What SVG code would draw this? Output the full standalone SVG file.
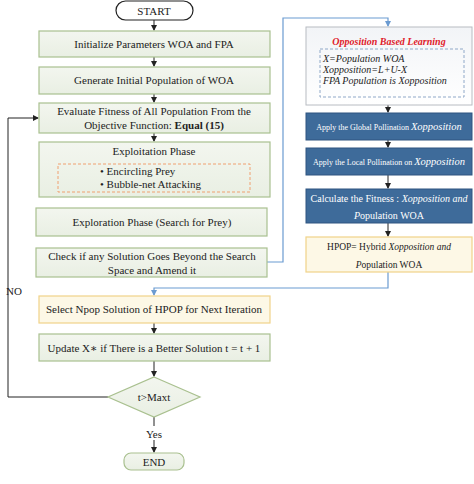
<svg xmlns="http://www.w3.org/2000/svg" width="474" height="484" viewBox="0 0 474 484">
<defs>
<linearGradient id="gG" x1="0" y1="0" x2="0" y2="1"><stop offset="0" stop-color="#f3f6ef"/><stop offset="1" stop-color="#e9efe3"/></linearGradient>
<linearGradient id="gW" x1="0" y1="0" x2="0" y2="1"><stop offset="0" stop-color="#f2f4f7"/><stop offset="1" stop-color="#ffffff"/></linearGradient>
<marker id="ak" markerWidth="6" markerHeight="6" refX="5" refY="3" orient="auto" markerUnits="userSpaceOnUse"><path d="M0,0 L6,3 L0,6 z" fill="#222"/></marker>
<marker id="ab" markerWidth="6" markerHeight="6" refX="5" refY="3" orient="auto" markerUnits="userSpaceOnUse"><path d="M0,0 L6,3 L0,6 z" fill="#6b9bd1"/></marker>
<style>
.g{fill:url(#gG);stroke:#a9c08f;stroke-width:1.2}
.d{fill:#3e6b9a;stroke:#2e5580;stroke-width:1}
.y{fill:#fdf8e6;stroke:#f1d389;stroke-width:1.2}
text{font-family:'Liberation Serif','Times New Roman','DejaVu Serif',serif}
.t{font-size:11px;fill:#222;text-anchor:middle}
.tw{font-size:10px;fill:#fff;text-anchor:middle}
.i{font-size:10px;fill:#222;font-style:italic}
.c{fill:none;stroke:#222;stroke-width:1}
.cb{fill:none;stroke:#6b9bd1;stroke-width:1.2}
</style>
</defs>
<g id="connectors">
<path class="c" d="M154,20 V30" marker-end="url(#ak)"/>
<path class="c" d="M154,57 V66" marker-end="url(#ak)"/>
<path class="c" d="M154,94 V102" marker-end="url(#ak)"/>
<path class="c" d="M154,133 V141" marker-end="url(#ak)"/>
<path class="c" d="M154,323 V333" marker-end="url(#ak)"/>
<path class="c" d="M154,361 V376" marker-end="url(#ak)"/>
<path class="c" d="M154,417 V452" marker-end="url(#ak)"/>
<path class="c" d="M108,397 H8 V118 H38" marker-end="url(#ak)"/>
<path class="c" d="M388,105 V112" marker-end="url(#ak)"/>
<path class="c" d="M388,140 V147" marker-end="url(#ak)"/>
<path class="c" d="M388,175 V188" marker-end="url(#ak)"/>
<path class="c" d="M388,223 V236" marker-end="url(#ak)"/>
<path class="cb" d="M267,262 H283 V18 H388 V26" marker-end="url(#ab)"/>
<path class="cb" d="M388,272 V288 H154 V295" marker-end="url(#ab)"/>
<text class="t" x="14" y="295">NO</text>
<rect x="140" y="426" width="28" height="14" fill="#fff"/>
<text class="t" x="154" y="438">Yes</text>
</g>
<g id="start"><rect x="116" y="1" width="77" height="19" rx="9.5" fill="#fff" stroke="#222" stroke-width="1.2"/><text class="t" x="154" y="14.5">START</text></g>
<g id="init"><rect class="g" x="39" y="31" width="231" height="26"/><text class="t" x="154" y="48">Initialize Parameters WOA and FPA</text></g>
<g id="generate"><rect class="g" x="39" y="67" width="231" height="27"/><text class="t" x="154" y="84">Generate Initial Population of WOA</text></g>
<g id="evaluate"><rect class="g" x="39" y="103" width="231" height="30"/><text class="t" x="154" y="115">Evaluate Fitness of All Population From the</text><text class="t" x="154" y="129">Objective Function: <tspan font-weight="bold">Equal (15)</tspan></text></g>
<g id="exploitation"><rect class="g" x="39" y="142" width="231" height="55"/><text class="t" x="154" y="155">Exploitation Phase</text><rect x="58" y="164" width="192" height="28" fill="none" stroke="#f0a070" stroke-width="1" stroke-dasharray="3,2"/><text class="t" x="100" y="175" style="text-anchor:start">•  Encircling Prey</text><text class="t" x="100" y="188" style="text-anchor:start">•  Bubble-net Attacking</text></g>
<g id="exploration"><rect class="g" x="36" y="208" width="231" height="28"/><text class="t" x="152" y="226">Exploration Phase (Search for Prey)</text></g>
<g id="check"><rect class="g" x="36" y="248" width="231" height="29"/><text class="t" x="152" y="260">Check if any Solution Goes Beyond the Search</text><text class="t" x="152" y="274">Space and Amend it</text></g>
<g id="obl"><rect x="306" y="27" width="166" height="78" fill="url(#gW)" stroke="#b8bcc2" stroke-width="1"/><text class="t" x="389" y="45" style="font-size:10px;fill:#e0202a;font-weight:bold;font-style:italic">Opposition Based Learning</text><rect x="320" y="49" width="144" height="48" fill="none" stroke="#8fa8c8" stroke-width="1" stroke-dasharray="3,2"/><text class="i" x="323" y="62">X=Population WOA</text><text class="i" x="323" y="73">Xopposition=L+U-X</text><text class="i" x="323" y="84">FPA Population  is Xopposition</text></g>
<g id="global"><rect class="d" x="306" y="113" width="166" height="27"/><text class="tw" x="389" y="130" style="font-size:8px">Apply the Global Pollination <tspan font-style="italic" font-size="10.5">Xopposition</tspan></text></g>
<g id="local"><rect class="d" x="306" y="148" width="166" height="27"/><text class="tw" x="389" y="165" style="font-size:8px">Apply the Local Pollination on <tspan font-style="italic" font-size="10.5">Xopposition</tspan></text></g>
<g id="calc"><rect class="d" x="306" y="189" width="166" height="34"/><text class="tw" x="389" y="202" style="font-size:10px">Calculate the Fitness : <tspan font-style="italic">Xopposition and</tspan></text><text class="tw" x="389" y="219" style="font-size:10px"><tspan font-style="italic">P</tspan>opulation WOA</text></g>
<g id="hpop"><rect class="y" x="306" y="237" width="166" height="35"/><text class="t" x="389" y="250" style="font-size:9.5px">HPOP= Hybrid <tspan font-style="italic">Xopposition and</tspan></text><text class="t" x="389" y="268" style="font-size:9.5px"><tspan font-style="italic">P</tspan>opulation WOA</text></g>
<g id="select"><rect class="y" x="39" y="296" width="231" height="27"/><text class="t" x="154" y="313">Select Npop Solution  of HPOP for Next Iteration</text></g>
<g id="update"><rect class="g" x="39" y="334" width="231" height="27"/><text class="t" x="154" y="352">Update X∗ if There is a Better Solution t = t + 1</text></g>
<g id="decision"><path d="M154,377 L200,397 L154,417 L108,397 z" fill="url(#gG)" stroke="#a9c08f" stroke-width="1.2"/><text class="t" x="154" y="401">t&gt;Maxt</text></g>
<g id="end"><rect x="124" y="453" width="60" height="17" rx="7" fill="url(#gG)" stroke="#a9c08f" stroke-width="1.2"/><text class="t" x="154" y="465.5">END</text></g>
</svg>
